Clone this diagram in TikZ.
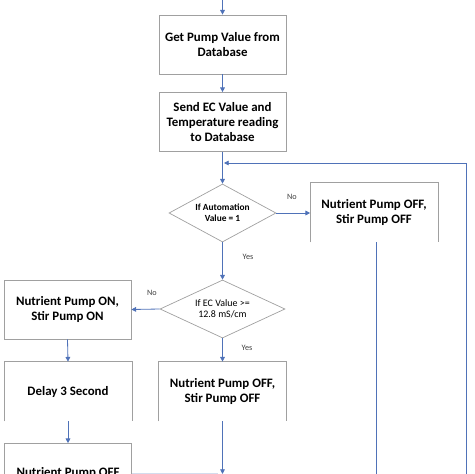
\documentclass[tikz,border=0pt]{standalone}
\usepackage{fontspec}
\setmainfont{Carlito}
\usetikzlibrary{shapes.geometric,arrows.meta}
\definecolor{linkblue}{RGB}{79,114,184}
\definecolor{framegray}{RGB}{160,160,160}

\begin{document}
\begin{tikzpicture}[x=0.03cm, y=-0.03cm,
    box/.style={draw=framegray, line width=0.6pt, minimum width=3.81cm, minimum height=1.77cm, align=center, inner sep=1pt, font=\fontsize{11}{12.8}\selectfont\bfseries},
    openbox/.style={box, draw=none},
    decision/.style={diamond, draw=framegray, line width=0.6pt, aspect=1.85, inner sep=0pt, align=center, minimum width=3.21cm, minimum height=1.74cm},
    conn/.style={draw=linkblue, line width=0.7pt},
    tip/.style={-{Triangle[length=4pt,width=4pt]}},
    answer/.style={font=\fontsize{7}{8}\selectfont, text=black!75}]
      \useasboundingbox (0,0) rectangle (474,474);
      \clip (0,0) rectangle (474,474);
      % process steps
      \node[box] (getpump) at (222.5, 44.5) {Get Pump Value from\\Database};
      \node[box] (senddb) at (222.5, 122) {Send EC Value and\\Temperature reading\\to Database};
      \node[decision, font=\fontsize{8}{9.4}\selectfont\bfseries] (automation) at (222.5, 213) {If Automation\\Value = 1};
      \node[openbox] (alloff) at (374, 212.5) {Nutrient Pump OFF,\\Stir Pump OFF};
      \node[decision, minimum width=3.75cm, font=\fontsize{8.5}{9.4}\selectfont] (ecvalue) at (222.5, 309) {If EC Value >=\\12.8 mS/cm};
      \node[box] (pumpon) at (67.5, 309.5) {Nutrient Pump ON,\\Stir Pump ON};
      \node[openbox] (delay) at (68, 391.5) {Delay 3 Second};
      \node[openbox] (ecoff) at (222.5, 391.5) {Nutrient Pump OFF,\\Stir Pump OFF};
      \node[box] (afterdelay) at (68, 473) {Nutrient Pump OFF};
      % boxes cut open at the bottom
      \foreach \b in {alloff, delay, ecoff}
        \draw[draw=framegray, line width=0.6pt] (\b.south west) -- (\b.north west) -- (\b.north east) -- (\b.south east);
      % branch labels
      \node[answer] (no1) at (292, 197) {No};
      \node[answer] (yes1) at (248, 257) {Yes};
      \node[answer] (no2) at (152, 293) {No};
      \node[answer] (yes2) at (247, 348) {Yes};
      % free ends
      \coordinate (start) at (222.5, 0);
      \coordinate (loopbot) at (466, 474);
      \coordinate (loopturn) at (466, 163);
      \coordinate (loopin) at (224, 163);
      \coordinate (bottom) at (0, 474);
      \coordinate (faintend) at (218, 473);
      % connectors
      \draw[conn, tip] (start) -- (getpump.north);
      \draw[conn, tip] (getpump.south) -- (senddb.north);
      \draw[conn, tip] (senddb.south) -- (automation.north);
      \draw[conn, tip] (automation.east) -- (alloff.west |- automation.east);
      \draw[conn, tip] (automation.south) -- (ecvalue.north);
      \draw[conn, tip] (ecvalue.west) -- (pumpon.east);
      \draw[conn, tip] (pumpon.south) -- (delay.north);
      \draw[conn, tip] (ecvalue.south) -- (ecoff.north);
      \draw[conn, tip] (delay.south) -- (afterdelay.north);
      \draw[conn, tip] (ecoff.south) -- (ecoff.south |- bottom);
      \draw[conn] ([xshift=0.06cm]alloff.south) -- ([xshift=0.06cm]alloff.south |- bottom);
      \draw[conn, tip] (loopbot) -- (loopturn) -- (loopin);
      \draw[draw=linkblue!25, line width=0.7pt] (afterdelay.east) -- (faintend);
\end{tikzpicture}
\end{document}
